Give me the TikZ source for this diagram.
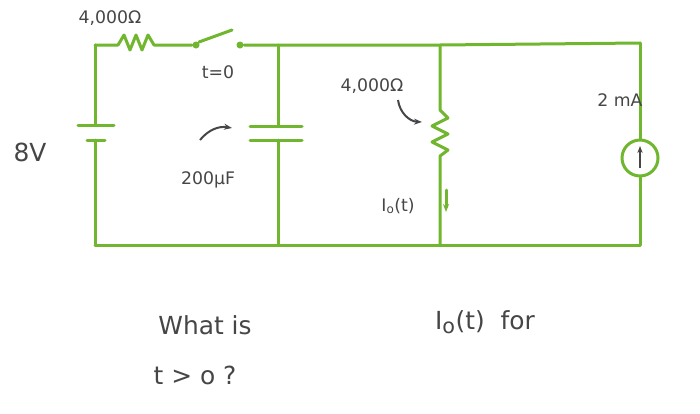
\documentclass[tikz,border=0pt]{standalone}
\usepackage{fontspec}
\setmainfont{DejaVu Sans}
\usetikzlibrary{arrows.meta}
\definecolor{wg}{RGB}{112,182,46}
\definecolor{ink}{RGB}{70,70,70}
\begin{document}
\begin{tikzpicture}[x=1pt,y=-1pt,
  wire/.style={draw=wg,line width=3pt,line cap=round,line join=round},
  lbl/.style={text=ink,font=\LARGE},
  big/.style={text=ink,font=\Huge}]
\useasboundingbox[fill=white] (0,0) rectangle (700,413);
\coordinate (tl) at (95,45); \coordinate (bl) at (95,245);
\coordinate (tr) at (640,43); \coordinate (br) at (640,245);
\coordinate (ct) at (278,45); \coordinate (cb) at (278,245);
\coordinate (rt) at (440,45); \coordinate (rb) at (440,245);
% left wire with battery
\draw[wire] (tl) -- (95,125) (95,140) -- (bl);
\draw[wire] (78,125) -- (114,125); \draw[wire] (87,140) -- (105,140);
% top: resistor and switch
\draw[wire] (tl) -- (118,45) -- (124,35) -- (130,50) -- (136,35) -- (142,50) -- (148,35) -- (154,45) -- (192,45);
\fill[wg] (196,45) circle (3.5);
\draw[wire] (199,42) -- (232,30);
\fill[wg] (240,45) circle (3.5);
\draw[wire] (244,45) -- (ct) -- (rt) -- (tr);
% capacitor branch
\draw[wire] (ct) -- (278,126) (278,140) -- (cb);
\draw[wire] (250,126) -- (302,126); \draw[wire] (250,140) -- (302,140);
% resistor branch
\draw[wire] (rt) -- (440,110) -- (448,118) -- (432,126) -- (448,134) -- (432,142) -- (448,150) -- (440,156) -- (rb);
\draw[wire,-{Stealth[length=8pt]}] (446,190) -- (446,212);
% current source
\node[draw=wg,line width=3pt,circle,minimum size=36pt,inner sep=0pt] (cs) at (640,158) {};
\draw[wire] (tr) -- (cs.north) (cs.south) -- (br);
\draw[draw=ink,line width=2pt,-{Stealth[length=7pt]}] (640,168) -- (640,146);
% bottom
\draw[wire] (bl) -- (cb) -- (rb) -- (br);
% arrows
\draw[ink,line width=2pt,-{Stealth[length=8pt]}] (200,140) to[bend left=30] (232,128);
\draw[ink,line width=2pt,-{Stealth[length=8pt]}] (398,100) to[bend right=40] (422,122);
% labels
\node[lbl] (l1) at (110,18) {4,000Ω};
\node[lbl] (l2) at (218,72) {t=0};
\node[big] (l3) at (30,152) {8V};
\node[lbl] (l4) at (208,180) {200μF};
\node[lbl] (l5) at (372,86) {4,000Ω};
\node[lbl] (l6) at (398,206) {I\textsubscript{o}(t)};
\node[lbl] (l7) at (620,100) {2 mA};
\node[big] (q1) at (205,325) {What is};
\node[big] (q2) at (485,322) {I\textsubscript{o}(t)\ \ for};
\node[big] (q3) at (195,375) {t > o ?};
\end{tikzpicture}
\end{document}
